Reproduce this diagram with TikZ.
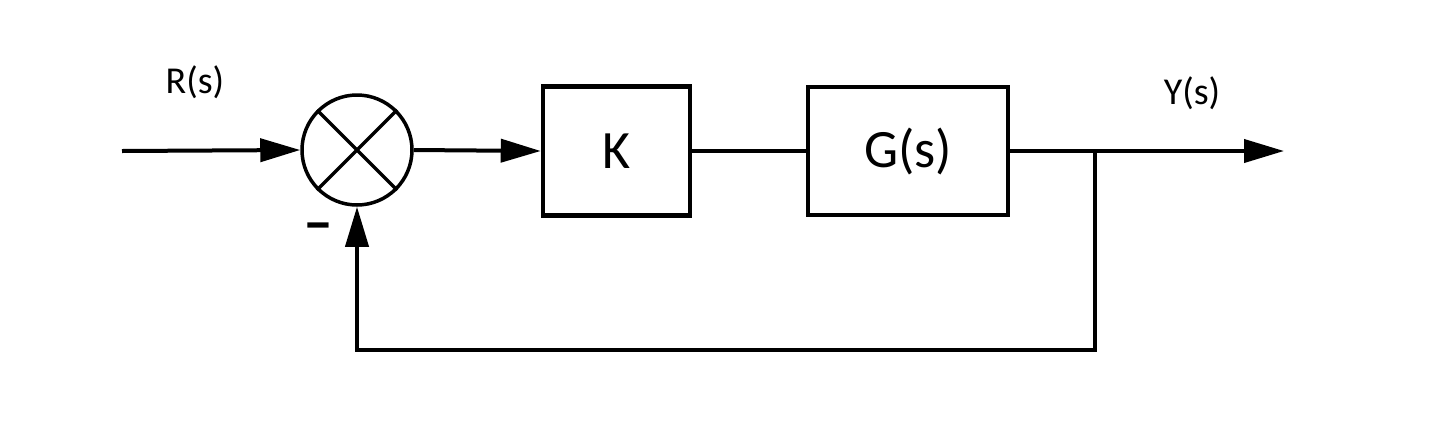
\documentclass[tikz,border=0pt]{standalone}
\usepackage{fontspec}
\setmainfont{Carlito}
\usetikzlibrary{arrows.meta}
\begin{document}
\begin{tikzpicture}[x=1pt,y=-1pt,line width=4pt,
  blk/.style={draw,line width=4.5pt,inner sep=0pt,font=\fontsize{54}{60}\selectfont},
  sig/.style={font=\fontsize{38}{42}\selectfont,inner sep=0pt},
  arr/.style={-{Triangle[length=40pt,width=23pt]}}]
\useasboundingbox (0,0) rectangle (1440,440);
\node[draw,circle,minimum size=110pt,inner sep=0pt,line width=3.5pt] (sum) at (357,150) {};
\draw[line width=3.5pt] (sum.north west) -- (sum.south east) (sum.north east) -- (sum.south west);
\node[blk,minimum width=147pt,minimum height=129pt] (K) at (616.5,151) {K};
\node[blk,minimum width=200pt,minimum height=128pt] (G) at (908,151) {G(s)};
\coordinate (in) at (122,151);
\coordinate (out) at (1284,151);
\coordinate (br) at (1095,151);
\coordinate (fb) at (1095,350);
\draw[arr] (in) -- (sum.west);
\draw[arr] (sum.east) -- (K.west);
\draw (K.east) -- (G.west);
\draw[arr] (G.east) -- (out);
\draw[arr] (br) -- (fb) -| (sum.south);
\node[sig] (R) at (195,82) {R(s)};
\node[sig] (Y) at (1192,93) {Y(s)};
\node[font=\fontsize{60}{64}\selectfont\bfseries,inner sep=0pt] (minus) at (318,233) {\textendash};
\end{tikzpicture}
\end{document}
